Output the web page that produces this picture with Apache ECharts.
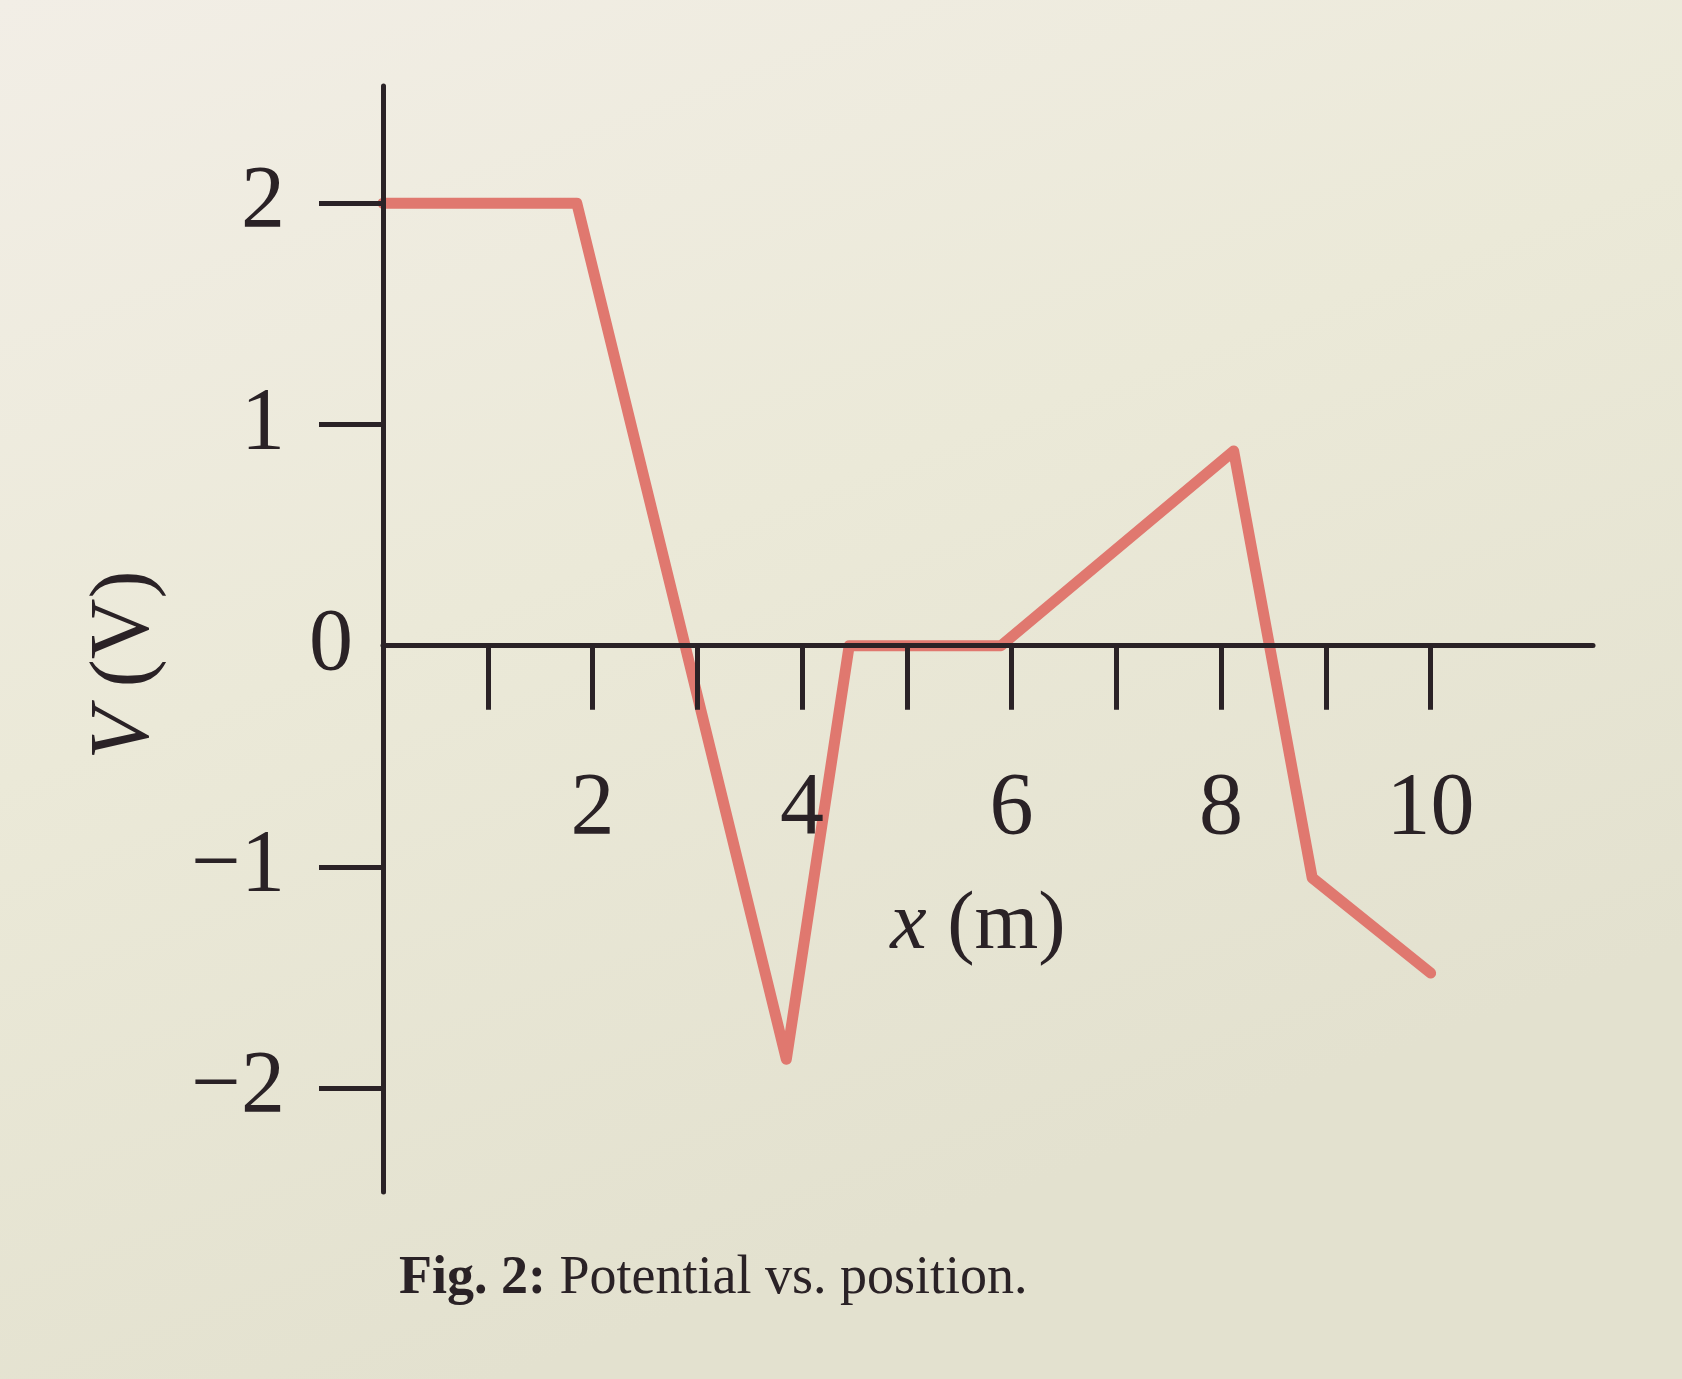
<!DOCTYPE html>
<html>
<head>
<meta charset="utf-8">
<script src="https://cdn.jsdelivr.net/npm/echarts@6/dist/echarts.min.js"></script>
<style>
html,body{margin:0;padding:0;width:1682px;height:1379px;overflow:hidden;}
#chart{width:1682px;height:1379px;}
</style>
</head>
<body>
<div id="chart"></div>
<script>
// Data
const xValues = [0, 1.85, 3.85, 4.45, 5.9, 8.12, 8.87, 10];
const vValues = [2, 2, -1.87, 0, 0, 0.88, -1.05, -1.48];
const xTickValues = [1, 2, 3, 4, 5, 6, 7, 8, 9, 10];
const xLabelValues = [2, 4, 6, 8, 10];
const yTickValues = [-2, -1, 1, 2];
const yLabelValues = [-2, -1, 1, 2];
const yZeroLabel = [0];
const yMin = -2.47, yMax = 2.53;
const caption = ['Fig. 2:', 'Potential vs. position.'];

const ink = '#2a2226';
const serif = '"Liberation Serif", "DejaVu Serif", serif';
const lineData = xValues.map((x, i) => [x, vValues[i]]);
const fmt = v => (v < 0 ? '\u2212' + (-v) : String(v));

const gridTop = 86, gridBottom = 187, H = 1379;
const gridH = H - gridTop - gridBottom;
// lift the x axis from the grid bottom up to V = 0
const zeroOffset = -gridH * (0 - yMin) / (yMax - yMin);

const chart = echarts.init(document.getElementById('chart'));
chart.setOption({
  animation: false,
  backgroundColor: {
    type: 'linear', x: 0, y: 0, x2: 0.3, y2: 1,
    colorStops: [
      { offset: 0, color: '#f2eee6' },
      { offset: 0.5, color: '#ebe9d8' },
      { offset: 1, color: '#e3e1cf' }
    ]
  },
  grid: { left: 383, right: 89, top: gridTop, bottom: gridBottom, containLabel: false, outerBoundsMode: 'none' },
  xAxis: {
    type: 'value', min: 0, max: 11.55, z: 5,
    position: 'bottom', offset: zeroOffset,
    name: '{i|x} (m)',
    nameLocation: 'middle', nameGap: 240,
    nameTextStyle: {
      color: ink, fontFamily: serif, fontSize: 82, padding: [0, 20, 0, 0],
      rich: { i: { fontStyle: 'italic', fontFamily: serif, fontSize: 82, color: ink } }
    },
    axisLine: { onZero: false, lineStyle: { color: ink, width: 5 } },
    axisTick: { show: true, customValues: xTickValues, length: 64, lineStyle: { color: ink, width: 5 } },
    axisLabel: { customValues: xLabelValues, margin: 120, color: ink, fontFamily: serif, fontSize: 88, formatter: fmt },
    splitLine: { show: false }
  },
  yAxis: [{
    type: 'value', min: yMin, max: yMax, z: 5,
    name: '{i|V} (V)',
    nameLocation: 'middle', nameGap: 215,
    nameTextStyle: {
      color: ink, fontFamily: serif, fontSize: 84, padding: [0, 52, 0, 0],
      rich: { i: { fontStyle: 'italic', fontFamily: serif, fontSize: 84, color: ink } }
    },
    axisLine: { show: true, onZero: false, lineStyle: { color: ink, width: 5 } },
    axisTick: { show: true, customValues: yTickValues, length: 64, lineStyle: { color: ink, width: 5 } },
    axisLabel: { customValues: yLabelValues, margin: 98, color: ink, fontFamily: serif, fontSize: 88, formatter: fmt },
    splitLine: { show: false }
  }, {
    type: 'value', min: yMin, max: yMax, position: 'left',
    axisLine: { show: false, onZero: false }, axisTick: { show: false }, splitLine: { show: false },
    axisLabel: { customValues: yZeroLabel, margin: 30, color: ink, fontFamily: serif, fontSize: 88, formatter: fmt }
  }],
  series: [{
    type: 'line', data: lineData, yAxisIndex: 0,
    showSymbol: false, symbol: 'none', clip: false,
    lineStyle: { color: '#e0786f', width: 11, cap: 'round', join: 'round' },
    z: 2
  }],
  graphic: [{
    type: 'text', left: 399, top: 1252,
    style: {
      text: '{b|' + caption[0] + '} ' + caption[1],
      fill: ink, font: '54px ' + serif,
      rich: { b: { fontWeight: 'bold', fontSize: 54, fontFamily: serif, fill: ink } }
    }
  }]
});
</script>
</body>
</html>
